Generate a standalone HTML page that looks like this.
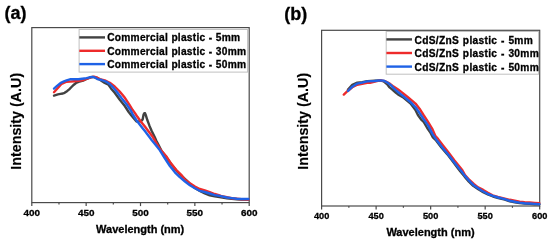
<!DOCTYPE html>
<html><head><meta charset="utf-8"><style>
html,body{margin:0;padding:0;background:#fff;}
body{width:550px;height:242px;overflow:hidden;}
svg{display:block;}
text{font-family:"Liberation Sans",Arial,sans-serif;font-weight:bold;fill:#000;stroke:#000;stroke-width:0.3px;}
.pl{font-size:18px;}
.tk{font-size:9.9px;}
.tkb{font-size:9.2px;}
.lg{font-size:10.2px;letter-spacing:0.25px;word-spacing:0.3px;}
.lgb{font-size:10.2px;letter-spacing:0.3px;word-spacing:0.6px;}
.yl{font-size:14.3px;stroke-width:0.15px;}
.xl{font-size:11px;}
</style></head><body>
<svg width="550" height="242" viewBox="0 0 550 242">
<rect width="550" height="242" fill="#fff"/>
<text x="4.5" y="19.3" class="pl">(a)</text>
<rect x="31.8" y="27.6" width="217.4" height="175.0" fill="none" stroke="#4a4a4a" stroke-width="1.2"/>
<line x1="31.80" y1="202.6" x2="31.80" y2="206.1" stroke="#4a4a4a" stroke-width="1.2"/>
<text x="31.80" y="216.2" class="tk" text-anchor="middle">400</text>
<line x1="58.98" y1="202.6" x2="58.98" y2="204.4" stroke="#4a4a4a" stroke-width="1.2"/>
<line x1="86.15" y1="202.6" x2="86.15" y2="206.1" stroke="#4a4a4a" stroke-width="1.2"/>
<text x="86.15" y="216.2" class="tk" text-anchor="middle">450</text>
<line x1="113.32" y1="202.6" x2="113.32" y2="204.4" stroke="#4a4a4a" stroke-width="1.2"/>
<line x1="140.50" y1="202.6" x2="140.50" y2="206.1" stroke="#4a4a4a" stroke-width="1.2"/>
<text x="140.50" y="216.2" class="tk" text-anchor="middle">500</text>
<line x1="167.68" y1="202.6" x2="167.68" y2="204.4" stroke="#4a4a4a" stroke-width="1.2"/>
<line x1="194.85" y1="202.6" x2="194.85" y2="206.1" stroke="#4a4a4a" stroke-width="1.2"/>
<text x="194.85" y="216.2" class="tk" text-anchor="middle">550</text>
<line x1="222.03" y1="202.6" x2="222.03" y2="204.4" stroke="#4a4a4a" stroke-width="1.2"/>
<line x1="249.20" y1="202.6" x2="249.20" y2="206.1" stroke="#4a4a4a" stroke-width="1.2"/>
<text x="249.20" y="216.2" class="tk" text-anchor="middle">600</text>
<polyline points="54.0,95.6 57.9,94.4 60.5,93.9 62.9,93.5 64.6,92.8 67.0,91.2 69.2,89.3 71.5,87.0 73.9,84.7 76.0,83.0 78.5,81.8 83.1,80.6 86.5,78.9 90.7,77.3 93.0,76.9 97.4,78.0 101.0,80.4 104.8,82.9 108.5,84.8 111.0,88.4 114.7,92.8 119.8,99.7 124.8,106.0 128.7,112.0 131.2,115.2 133.7,118.2 136.5,121.5 138.5,121.4 140.5,121.2 142.0,120.2 142.7,119.2 143.1,117.0 143.6,114.6 144.3,113.2 145.1,113.3 145.8,115.2 146.4,117.2 147.3,120.0 148.5,123.2 149.6,126.2 151.7,131.0 154.8,137.3 156.2,140.5 158.2,144.4 161.4,150.6 166.0,156.8 171.1,164.0 176.1,170.2 181.1,175.5 186.0,179.9 190.0,183.9 194.9,188.0 199.8,190.9 204.8,193.4 209.7,195.3 214.7,196.2 219.6,197.0 226.9,198.2 231.8,198.8 236.8,199.3 241.7,199.5 248.5,199.6" fill="none" stroke="#424242" stroke-width="2.4" stroke-linejoin="round" stroke-linecap="round"/>
<polyline points="54.0,92.2 57.9,88.0 61.6,83.8 66.6,81.7 70.0,81.6 74.1,81.2 78.3,80.9 82.4,80.3 86.5,78.9 90.7,77.3 94.0,76.6 96.4,77.4 99.9,79.1 104.8,80.3 109.8,82.8 114.7,86.5 119.7,91.5 124.9,97.8 129.5,104.8 132.5,109.8 135.0,113.1 137.4,116.8 139.9,120.2 142.4,123.4 144.9,126.6 147.3,129.8 149.8,133.0 152.3,136.2 154.9,140.6 159.9,149.0 163.0,152.5 166.2,156.2 171.1,163.6 176.1,169.8 181.0,174.5 185.0,179.7 189.9,183.2 194.9,186.6 199.8,189.0 204.8,190.3 209.7,192.1 214.7,194.0 219.6,195.5 221.9,196.3 231.8,198.3 241.7,199.2 248.5,199.5" fill="none" stroke="#ee2b2b" stroke-width="2.4" stroke-linejoin="round" stroke-linecap="round"/>
<polyline points="54.0,88.6 56.5,86.4 60.4,83.1 64.0,81.3 66.6,80.4 70.0,79.3 74.1,79.3 78.3,79.3 82.4,78.7 86.5,78.1 89.8,77.3 92.3,76.9 94.8,77.4 97.3,79.1 101.7,80.0 106.0,81.6 109.7,84.0 113.4,87.7 117.2,92.2 122.3,99.1 127.3,105.3 131.2,111.2 133.1,115.0 135.0,118.0 137.4,121.6 139.9,124.8 142.4,128.0 144.9,131.1 147.3,134.2 149.8,137.5 152.0,140.6 154.9,144.1 159.9,150.3 165.0,158.5 169.9,166.1 174.9,172.3 179.8,177.2 185.0,181.5 189.9,185.2 194.9,188.3 199.8,190.8 204.8,192.0 209.7,193.5 214.7,195.1 219.6,195.9 226.9,197.5 231.8,198.1 236.8,198.8 241.7,199.0 248.5,199.0" fill="none" stroke="#1f62e6" stroke-width="2.4" stroke-linejoin="round" stroke-linecap="round"/>
<rect x="79.1" y="29.5" width="168.5" height="42.6" fill="#fff" stroke="#c0c0c0" stroke-width="1"/>
<line x1="79.3" y1="37.4" x2="105" y2="37.4" stroke="#424242" stroke-width="2.4"/>
<text x="107.2" y="41.1" class="lg">Commercial plastic - 5mm</text>
<line x1="79.3" y1="50.8" x2="105" y2="50.8" stroke="#ee2b2b" stroke-width="2.4"/>
<text x="107.2" y="54.5" class="lg">Commercial plastic - 30mm</text>
<line x1="79.3" y1="64.1" x2="105" y2="64.1" stroke="#1f62e6" stroke-width="2.4"/>
<text x="107.2" y="67.8" class="lg">Commercial plastic - 50mm</text>
<text transform="translate(21.3,121.3) rotate(-90)" class="yl" text-anchor="middle">Intensity (A.U)</text>
<text x="140.2" y="233.3" class="xl" text-anchor="middle">Wavelength (nm)</text>
<text x="284.3" y="20.4" class="pl">(b)</text>
<rect x="321.6" y="30.3" width="218.1" height="175.7" fill="none" stroke="#4a4a4a" stroke-width="1.2"/>
<line x1="321.60" y1="206" x2="321.60" y2="209.5" stroke="#4a4a4a" stroke-width="1.2"/>
<text x="321.60" y="219.2" class="tkb" text-anchor="middle">400</text>
<line x1="348.86" y1="206" x2="348.86" y2="207.8" stroke="#4a4a4a" stroke-width="1.2"/>
<line x1="376.12" y1="206" x2="376.12" y2="209.5" stroke="#4a4a4a" stroke-width="1.2"/>
<text x="376.12" y="219.2" class="tkb" text-anchor="middle">450</text>
<line x1="403.39" y1="206" x2="403.39" y2="207.8" stroke="#4a4a4a" stroke-width="1.2"/>
<line x1="430.65" y1="206" x2="430.65" y2="209.5" stroke="#4a4a4a" stroke-width="1.2"/>
<text x="430.65" y="219.2" class="tkb" text-anchor="middle">500</text>
<line x1="457.91" y1="206" x2="457.91" y2="207.8" stroke="#4a4a4a" stroke-width="1.2"/>
<line x1="485.18" y1="206" x2="485.18" y2="209.5" stroke="#4a4a4a" stroke-width="1.2"/>
<text x="485.18" y="219.2" class="tkb" text-anchor="middle">550</text>
<line x1="512.44" y1="206" x2="512.44" y2="207.8" stroke="#4a4a4a" stroke-width="1.2"/>
<line x1="539.70" y1="206" x2="539.70" y2="209.5" stroke="#4a4a4a" stroke-width="1.2"/>
<text x="539.70" y="219.2" class="tkb" text-anchor="middle">600</text>
<polyline points="348.0,89.5 352.3,84.8 357.3,82.6 362.2,82.2 367.2,81.2 374.6,80.8 379.9,80.4 383.6,81.4 387.2,84.3 389.6,87.4 392.9,90.0 396.0,92.8 398.0,94.4 403.7,97.8 410.6,103.6 415.3,109.8 417.9,115.0 421.0,119.3 423.7,122.0 427.2,128.0 430.2,132.3 432.9,137.4 436.1,140.5 441.4,147.5 447.4,154.4 452.7,161.4 457.9,168.2 460.2,171.2 464.6,176.6 468.9,181.6 473.2,185.8 477.9,188.9 482.1,191.6 487.8,194.4 493.0,196.5 498.3,198.1 504.8,199.6 509.8,201.3 514.7,202.2 519.7,203.0 524.7,203.6 529.6,203.9 534.6,204.2 539.3,204.4" fill="none" stroke="#424242" stroke-width="2.4" stroke-linejoin="round" stroke-linecap="round"/>
<polyline points="343.8,94.6 347.4,91.2 352.3,87.2 357.3,84.7 362.2,83.9 367.2,82.8 370.0,82.8 375.0,81.6 379.9,80.3 384.9,81.1 389.8,83.6 393.6,86.6 398.1,89.5 402.9,93.1 408.8,98.0 415.5,103.6 420.3,109.8 423.5,115.0 427.4,120.8 432.1,128.6 435.5,136.2 437.8,138.6 443.0,145.5 448.7,152.8 454.3,160.2 460.2,167.6 462.4,170.3 465.0,175.0 469.4,180.0 473.8,184.0 478.1,187.4 483.2,189.9 487.5,192.6 492.6,195.3 497.9,196.9 504.8,198.6 509.8,199.8 514.7,200.7 519.7,201.6 524.7,202.2 529.6,202.5 534.6,202.9 539.3,203.2" fill="none" stroke="#ee2b2b" stroke-width="2.4" stroke-linejoin="round" stroke-linecap="round"/>
<polyline points="348.0,91.0 352.3,86.7 357.3,83.6 362.2,82.6 367.2,81.4 374.6,81.0 379.9,80.4 383.6,80.6 387.3,82.5 390.7,84.9 393.2,87.6 396.1,90.4 398.0,92.0 402.9,95.9 410.1,101.7 415.6,107.3 419.9,113.5 423.5,118.8 428.5,126.1 432.3,133.6 436.8,140.3 442.1,147.3 448.0,154.2 453.4,161.2 458.7,168.0 461.3,171.0 464.7,175.6 469.1,180.6 473.3,184.9 477.8,188.0 482.0,190.8 487.6,193.8 492.9,195.9 498.2,197.5 504.8,199.1 509.8,200.8 514.7,201.7 519.7,202.6 524.7,203.2 529.6,203.5 534.6,203.9 539.3,204.2" fill="none" stroke="#1f62e6" stroke-width="2.4" stroke-linejoin="round" stroke-linecap="round"/>
<rect x="386.2" y="31.5" width="152.4" height="42.7" fill="#fff" stroke="#c0c0c0" stroke-width="1"/>
<line x1="386.4" y1="39.4" x2="412" y2="39.4" stroke="#424242" stroke-width="2.4"/>
<text x="414.6" y="43.8" class="lgb">CdS/ZnS plastic - 5mm</text>
<line x1="386.4" y1="53.0" x2="412" y2="53.0" stroke="#ee2b2b" stroke-width="2.4"/>
<text x="414.6" y="57.4" class="lgb">CdS/ZnS plastic - 30mm</text>
<line x1="386.4" y1="66.6" x2="412" y2="66.6" stroke="#1f62e6" stroke-width="2.4"/>
<text x="414.6" y="71.0" class="lgb">CdS/ZnS plastic - 50mm</text>
<text transform="translate(307.9,121.3) rotate(-90)" class="yl" text-anchor="middle">Intensity (A.U)</text>
<text x="430.5" y="236" class="xl" text-anchor="middle">Wavelength (nm)</text>
</svg>
</body></html>
